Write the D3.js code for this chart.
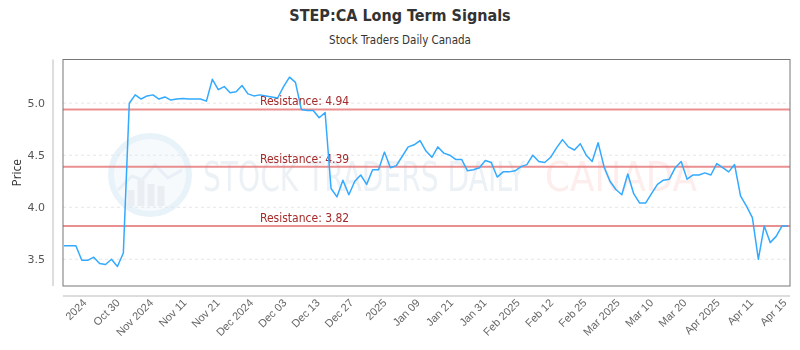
<!DOCTYPE html>
<html>
<head>
<meta charset="utf-8">
<script src="https://cdn.jsdelivr.net/npm/d3@7/dist/d3.min.js"></script>
<style>
  body { margin: 0; background: #fff; }
  svg { display: block; font-family: "Open Sans", sans-serif; }
</style>
</head>
<body>
<svg id="chart" width="800" height="350"></svg>
<script>
// Cours de clôture (un point par séance)
const prices = [
  3.63, 3.63, 3.63, 3.49, 3.49, 3.52, 3.46, 3.45, 3.50, 3.43,
  3.56, 5.00, 5.08, 5.04, 5.07, 5.08, 5.04, 5.06, 5.03, 5.04,
  5.045, 5.04, 5.04, 5.04, 5.02, 5.23, 5.13, 5.16, 5.10, 5.11,
  5.17, 5.09, 5.07, 5.08, 5.07, 5.06, 5.05, 5.16, 5.25, 5.20,
  4.94, 4.93, 4.93, 4.86, 4.91, 4.18, 4.10, 4.26, 4.12, 4.25,
  4.31, 4.22, 4.36, 4.36, 4.53, 4.38, 4.40, 4.49, 4.58, 4.60,
  4.64, 4.54, 4.48, 4.58, 4.52, 4.50, 4.46, 4.46, 4.35, 4.36,
  4.38, 4.45, 4.43, 4.29, 4.34, 4.34, 4.35, 4.39, 4.41, 4.50,
  4.44, 4.43, 4.48, 4.57, 4.65, 4.58, 4.55, 4.61, 4.50, 4.44,
  4.62, 4.39, 4.25, 4.17, 4.12, 4.32, 4.13, 4.04, 4.04, 4.13,
  4.22, 4.26, 4.27, 4.38, 4.44, 4.27, 4.31, 4.31, 4.33, 4.31,
  4.42, 4.38, 4.34, 4.41, 4.11, 4.01, 3.90, 3.50, 3.82, 3.66,
  3.72, 3.82, 3.82
];

const tickLabels = [
  "2024", "Oct 30", "Nov 2024", "Nov 11", "Nov 21", "Dec 2024", "Dec 03",
  "Dec 13", "Dec 27", "2025", "Jan 09", "Jan 21", "Jan 31", "Feb 2025",
  "Feb 12", "Feb 25", "Mar 2025", "Mar 10", "Mar 20", "Apr 2025",
  "Apr 11", "Apr 15"
];

const resistance = [4.94, 4.39, 3.82];
const yTicks = [3.5, 4.0, 4.5, 5.0];

// Zone de tracé
const plotLeft = 63, plotRight = 790, plotTop = 59.5, plotBottom = 286;
const narrow = "'Liberation Sans Narrow', 'DejaVu Sans Condensed', sans-serif";

const svg = d3.select("#chart");

const x = d3.scaleLinear()
  .domain([0, prices.length - 1])
  .range([plotLeft + 1, plotRight - 2]);

const y = d3.scaleLinear()
  .domain([3.243, 5.42])
  .range([plotBottom, plotTop]);

// Titre
svg.append("text")
  .attr("x", 400).attr("y", 21)
  .attr("text-anchor", "middle")
  .attr("font-family", narrow)
  .attr("font-weight", "bold")
  .attr("font-size", "16px")
  .attr("fill", "#333")
  .text("STEP:CA Long Term Signals");

svg.append("text")
  .attr("x", 400).attr("y", 44)
  .attr("text-anchor", "middle")
  .attr("font-family", narrow)
  .attr("font-size", "11.5px")
  .attr("fill", "#333")
  .text("Stock Traders Daily Canada");

// Filigrane (texte compressé horizontalement pour tenir dans sa largeur)
const wm = svg.append("g").attr("opacity", 0.55);
wm.append("circle")
  .attr("cx", 150).attr("cy", 175).attr("r", 39)
  .attr("fill", "#eef6fc")
  .attr("stroke", "#d6e8f5")
  .attr("stroke-width", 6);
[[131, 190], [141, 180], [151, 184], [161, 186]].forEach(([bx, by]) => {
  wm.append("rect")
    .attr("x", bx - 3.5).attr("y", by)
    .attr("width", 7).attr("height", 206 - by)
    .attr("fill", "#d9dfe6");
});
wm.append("polyline")
  .attr("points", "118,190 132,176 142,180 155,165 168,178 182,170")
  .attr("fill", "none")
  .attr("stroke", "#d6e2ee")
  .attr("stroke-width", 3);

function watermarkText(str, x0, width, color) {
  const t = wm.append("text")
    .attr("font-family", narrow)
    .attr("font-size", "40px")
    .attr("fill", color)
    .text(str);
  const natural = t.node().getComputedTextLength();
  t.attr("transform", `translate(${x0},191) scale(${width / natural},1)`);
}
watermarkText("STOCK TRADERS DAILY", 203, 322, "#dce6ef");
watermarkText("CANADA", 545, 152, "#fbdede");

// Grille horizontale
svg.append("g")
  .selectAll("line")
  .data(yTicks)
  .enter().append("line")
  .attr("x1", plotLeft).attr("x2", plotRight)
  .attr("y1", d => y(d)).attr("y2", d => y(d))
  .attr("stroke", "#e6e6e6")
  .attr("stroke-dasharray", "3,3");

// Lignes de résistance
svg.append("g")
  .selectAll("line")
  .data(resistance)
  .enter().append("line")
  .attr("x1", plotLeft).attr("x2", plotRight)
  .attr("y1", d => y(d)).attr("y2", d => y(d))
  .attr("stroke", "#e57373")
  .attr("stroke-opacity", 0.8)
  .attr("stroke-width", 2);

svg.append("g")
  .selectAll("text")
  .data(resistance)
  .enter().append("text")
  .attr("x", 260)
  .attr("y", d => y(d) - 4)
  .attr("font-family", narrow)
  .attr("font-size", "12px")
  .attr("fill", "#a52a2a")
  .text(d => "Resistance: " + d.toFixed(2));

// Courbe des prix
const line = d3.line()
  .x((d, i) => x(i))
  .y(d => y(d));

svg.append("path")
  .datum(prices)
  .attr("d", line)
  .attr("fill", "none")
  .attr("stroke", "#33aaff")
  .attr("stroke-width", 1.5)
  .attr("stroke-linejoin", "round");

// Cadre du graphique
svg.append("rect")
  .attr("x", plotLeft).attr("y", plotTop)
  .attr("width", plotRight - plotLeft).attr("height", plotBottom - plotTop)
  .attr("fill", "none")
  .attr("stroke", "#777")
  .attr("stroke-width", 1);

// Axe Y
const yAxis = d3.axisLeft(y)
  .tickValues(yTicks)
  .tickFormat(d3.format(".1f"))
  .tickSize(0)
  .tickPadding(8);

const gy = svg.append("g")
  .attr("transform", "translate(53,0)")
  .call(yAxis);
gy.select(".domain").attr("stroke", "#bbb").attr("d", `M0,${plotTop}V${plotBottom}`);
gy.selectAll("text")
  .attr("font-family", "'DejaVu Sans', sans-serif")
  .attr("font-size", "11px")
  .attr("fill", "#555");

svg.append("text")
  .attr("transform", `translate(21,${(plotTop + plotBottom) / 2}) rotate(-90)`)
  .attr("text-anchor", "middle")
  .attr("font-size", "12px")
  .attr("fill", "#333")
  .text("Price");

// Axe X : étiquettes réparties régulièrement jusqu'au dernier point
const lastIdx = prices.length - 1;
const step = 5.617;
const tickIdx = tickLabels.map((d, k) => lastIdx - (tickLabels.length - 1 - k) * step);

const xAxis = d3.axisBottom(x)
  .tickValues(tickIdx)
  .tickFormat((d, k) => tickLabels[k])
  .tickSize(0)
  .tickPadding(6);

const gx = svg.append("g")
  .attr("transform", "translate(0,296)")
  .call(xAxis);
gx.select(".domain").attr("stroke", "#bbb").attr("d", `M${plotLeft},0H${plotRight}`);
gx.selectAll("text")
  .attr("font-size", "11px")
  .attr("fill", "#666")
  .attr("text-anchor", "end")
  .attr("dx", "-0.56em")
  .attr("dy", "-0.14em")
  .attr("transform", "rotate(-45)");
</script>
</body>
</html>
